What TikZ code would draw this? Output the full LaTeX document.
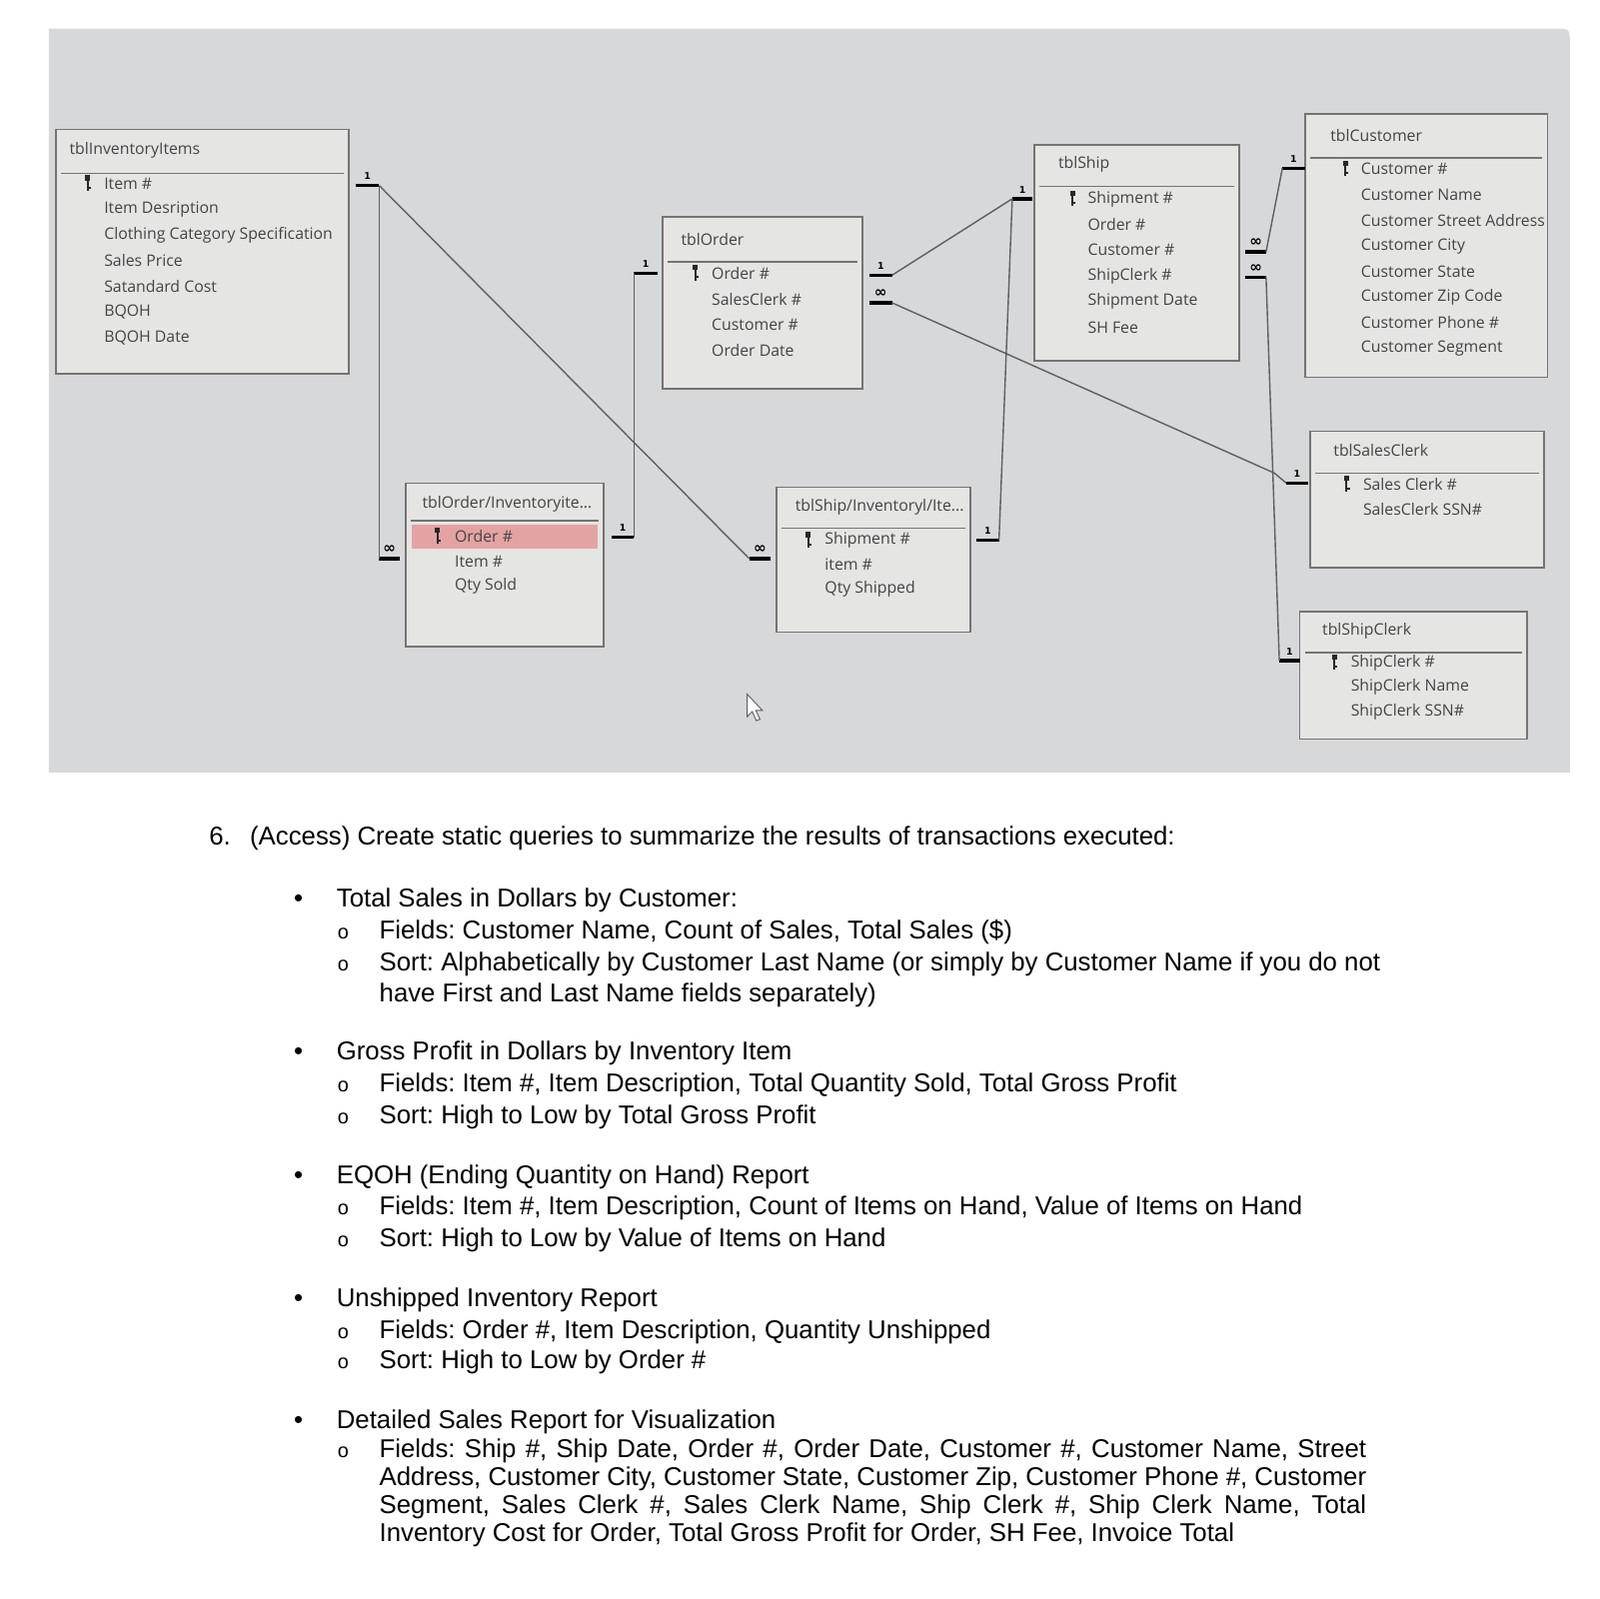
\documentclass[tikz,border=0pt]{standalone}
\usepackage{fontspec}
\setmainfont{Liberation Sans}
\newfontfamily\uifont{Open Sans}
\newfontfamily\lblfont{DejaVu Sans}
\usetikzlibrary{fit}
\frenchspacing
\definecolor{bgc}{RGB}{215,216,218}
\definecolor{boxfill}{RGB}{229,229,227}
\definecolor{boxline}{RGB}{118,115,115}
\definecolor{txtc}{RGB}{68,68,70}
\definecolor{relc}{RGB}{95,95,97}
\definecolor{pinkc}{RGB}{228,163,163}
\definecolor{keyc}{RGB}{40,40,40}
\tikzset{
 tblbox/.style={draw=boxline, fill=boxfill, line width=1.5pt, inner sep=0pt},
 sepline/.style={draw=boxline, line width=1.3pt},
 fld/.style={font=\uifont\fontsize{13.5}{15}\selectfont, text=txtc, anchor=west, inner sep=0pt},
 ttl/.style={fld},
 rel/.style={draw=relc, line width=1.2pt},
 stubline/.style={draw=black, line width=3pt},
 lbl/.style={font=\lblfont\bfseries\fontsize{8}{9}\selectfont, inner sep=0pt},
 doc/.style={font=\fontsize{22}{26}\selectfont, anchor=base west, inner sep=0pt},
 subm/.style={font=\fontsize{17}{20}\selectfont, anchor=base west, inner sep=0pt},
}
\newcommand\infl{{\fontsize{13}{13}\selectfont ∞}}
\newcommand\keyat[2]{%
 \fill[keyc] (#1-2.5,#2-8) rectangle (#1+2.5,#2-3);
 \fill[keyc] (#1-1,#2-3) rectangle (#1+1,#2+7);
 \fill[keyc] (#1+1,#2+3) rectangle (#1+3,#2+5);}
\newcommand\stub[5]{%
 \coordinate (#1-a) at (#2,#4);
 \coordinate (#1-b) at (#3,#4);
 \draw[stubline] (#1-a) -- (#1-b);
 \node[lbl] (#1-l) at ({(#2+#3)/2},#4-9) {#5};}
\newcommand\dbtable[9]{%
 \node[tblbox, fit={(#2,#3) (#4,#5)}] (#1) {};
 \draw[sepline] (#2+5,#8) -- (#4-5,#8);
 \node[ttl] (#1-title) at (#6,#7) {#9};}
\begin{document}
\begin{tikzpicture}[x=0.0306cm, y=-0.0306cm]
\useasboundingbox (0,0) rectangle (1568.6,1568.6);
\fill[white] (0,0) rectangle (1568.6,1568.6);
% screen background
\fill[bgc] (48,758) -- (48,28) -- (1525,28) .. controls (1540,28) .. (1540,43) -- (1540,758) -- cycle;

% ---------- tables ----------
\dbtable{inv}{55}{127}{342}{367}{68}{147}{170}{tblInventoryItems}
\keyat{86}{180}
\foreach \f [count=\i] in {Item \#, Item Desription, Clothing Category Specification, Sales Price, Satandard Cost, BQOH, BQOH Date}
  \node[fld] (inv-f\i) at (102,{180+25.2*(\i-1)}) {\f};

\dbtable{ord}{650}{213}{846}{381}{668}{235}{257}{tblOrder}
\keyat{682}{268}
\foreach \f [count=\i] in {Order \#, SalesClerk \#, Customer \#, Order Date}
  \node[fld] (ord-f\i) at (698,{268+25.3*(\i-1)}) {\f};

\dbtable{shp}{1015}{142}{1216}{354}{1038}{161}{183}{tblShip}
\keyat{1052}{195}
\foreach \f [count=\i] in {Shipment \#, Order \#, Customer \#, ShipClerk \#, Shipment Date, SH Fee}
  \node[fld] (shp-f\i) at (1067,{195+25.2*(\i-1)}) {\f};

\dbtable{cus}{1280}{112}{1518}{370}{1305}{133}{155}{tblCustomer}
\keyat{1320}{166}
\foreach \f [count=\i] in {Customer \#, Customer Name, Customer Street Address, Customer City, Customer State, Customer Zip Code, Customer Phone \#, Customer Segment}
  \node[fld] (cus-f\i) at (1335,{166+25.1*(\i-1)}) {\f};

\dbtable{scl}{1285}{423}{1515}{557}{1308}{442}{464}{tblSalesClerk}
\keyat{1321}{475}
\foreach \f [count=\i] in {Sales Clerk \#, SalesClerk SSN\#}
  \node[fld] (scl-f\i) at (1337,{475+25*(\i-1)}) {\f};

\dbtable{hcl}{1275}{600}{1498}{725}{1297}{619}{640}{tblShipClerk}
\keyat{1309}{650}
\foreach \f [count=\i] in {ShipClerk \#, ShipClerk Name, ShipClerk SSN\#}
  \node[fld] (hcl-f\i) at (1325,{650+24.2*(\i-1)}) {\f};

\dbtable{oi}{398}{474}{592}{634}{414}{494}{511}{tblOrder/Inventoryite...}
\fill[pinkc] (404,515) rectangle (586,538);
\keyat{429}{526}
\foreach \f [count=\i] in {Order \#, Item \#, Qty Sold}
  \node[fld] (oi-f\i) at (446,{526+24.5*(\i-1)}) {\f};

\dbtable{si}{762}{478}{952}{620}{780}{497}{518}{tblShip/Inventoryl/Ite...}
\keyat{793}{530}
\foreach \f [count=\i] in {Shipment \#, item \#, Qty Shipped}
  \node[fld] (si-f\i) at (809,{530+24*(\i-1)}) {\f};

% ---------- relationship stubs ----------
\stub{s1}{349}{372}{182}{1}
\stub{s2}{372}{392}{548}{\infl}
\stub{s3}{735}{756}{548}{\infl}
\stub{s4}{622}{645}{268}{1}
\stub{s5}{600}{622}{527}{1}
\stub{s6}{853}{875}{270}{1}
\stub{s7}{853}{875}{297}{\infl}
\stub{s8}{993}{1013}{195}{1}
\stub{s9}{958}{980}{530}{1}
\stub{s10}{1222}{1242}{247}{\infl}
\stub{s11}{1222}{1242}{272}{\infl}
\stub{s12}{1258}{1280}{165}{1}
\stub{s13}{1262}{1283}{474}{1}
\stub{s14}{1255}{1275}{648}{1}

% ---------- relationship lines ----------
\draw[rel] (s1-b) -- (s2-a);
\draw[rel] (s1-b) -- (s3-a);
\draw[rel] (s4-a) -- (s5-b);
\draw[rel] (s6-b) -- (s8-a);
\draw[rel] (s8-a) -- (s9-b);
\coordinate (k1) at (1250,464);
\draw[rel] (s7-b) -- (k1) -- (s13-a);
\draw[rel] (s10-b) -- (s12-a);
\draw[rel] (s11-b) -- (s14-a);

% mouse cursor
\filldraw[fill=white, draw=relc, line width=0.8pt] (733,681) -- (733,703) -- (738,698) -- (742,707) -- (745.5,705.5) -- (741.5,697) -- (748,697) -- cycle;

% ---------- document text ----------
\node[doc] (q6n) at (205,829) {6.};
\node[doc] (q6) at (245,829) {(Access) Create static queries to summarize the results of transactions executed:};

\node[doc] (b1) at (288,890) {•};
\node[doc] (b1t) at (330,890) {Total Sales in Dollars by Customer:};
\node[subm] (b1o1) at (331,921) {o};
\node[doc] (b1s1) at (372,921) {Fields: Customer Name, Count of Sales, Total Sales (\$)};
\node[subm] (b1o2) at (331,952) {o};
\node[doc] (b1s2) at (372,952) {Sort: Alphabetically by Customer Last Name (or simply by Customer Name if you do not};
\node[doc] (b1s3) at (372,983) {have First and Last Name fields separately)};

\node[doc] (b2) at (288,1040) {•};
\node[doc] (b2t) at (330,1040) {Gross Profit in Dollars by Inventory Item};
\node[subm] (b2o1) at (331,1071) {o};
\node[doc] (b2s1) at (372,1071) {Fields: Item \#, Item Description, Total Quantity Sold, Total Gross Profit};
\node[subm] (b2o2) at (331,1102) {o};
\node[doc] (b2s2) at (372,1102) {Sort: High to Low by Total Gross Profit};

\node[doc] (b3) at (288,1161) {•};
\node[doc] (b3t) at (330,1161) {EQOH (Ending Quantity on Hand) Report};
\node[subm] (b3o1) at (331,1192) {o};
\node[doc] (b3s1) at (372,1192) {Fields: Item \#, Item Description, Count of Items on Hand, Value of Items on Hand};
\node[subm] (b3o2) at (331,1223) {o};
\node[doc] (b3s2) at (372,1223) {Sort: High to Low by Value of Items on Hand};

\node[doc] (b4) at (288,1282) {•};
\node[doc] (b4t) at (330,1282) {Unshipped Inventory Report};
\node[subm] (b4o1) at (331,1313) {o};
\node[doc] (b4s1) at (372,1313) {Fields: Order \#, Item Description, Quantity Unshipped};
\node[subm] (b4o2) at (331,1343) {o};
\node[doc] (b4s2) at (372,1343) {Sort: High to Low by Order \#};

\node[doc] (b5) at (288,1401) {•};
\node[doc] (b5t) at (330,1401) {Detailed Sales Report for Visualization};
\node[subm] (b5o1) at (331,1430) {o};
\node[doc] (b5s1) at (372,1430) {\makebox[29.62cm][s]{Fields: Ship \#, Ship Date, Order \#, Order Date, Customer \#, Customer Name, Street}};
\node[doc] (b5s2) at (372,1457) {\makebox[29.62cm][s]{Address, Customer City, Customer State, Customer Zip, Customer Phone \#, Customer}};
\node[doc] (b5s3) at (372,1485) {\makebox[29.62cm][s]{Segment, Sales Clerk \#, Sales Clerk Name, Ship Clerk \#, Ship Clerk Name, Total}};
\node[doc] (b5s4) at (372,1512) {Inventory Cost for Order, Total Gross Profit for Order, SH Fee, Invoice Total};
\end{tikzpicture}
\end{document}
